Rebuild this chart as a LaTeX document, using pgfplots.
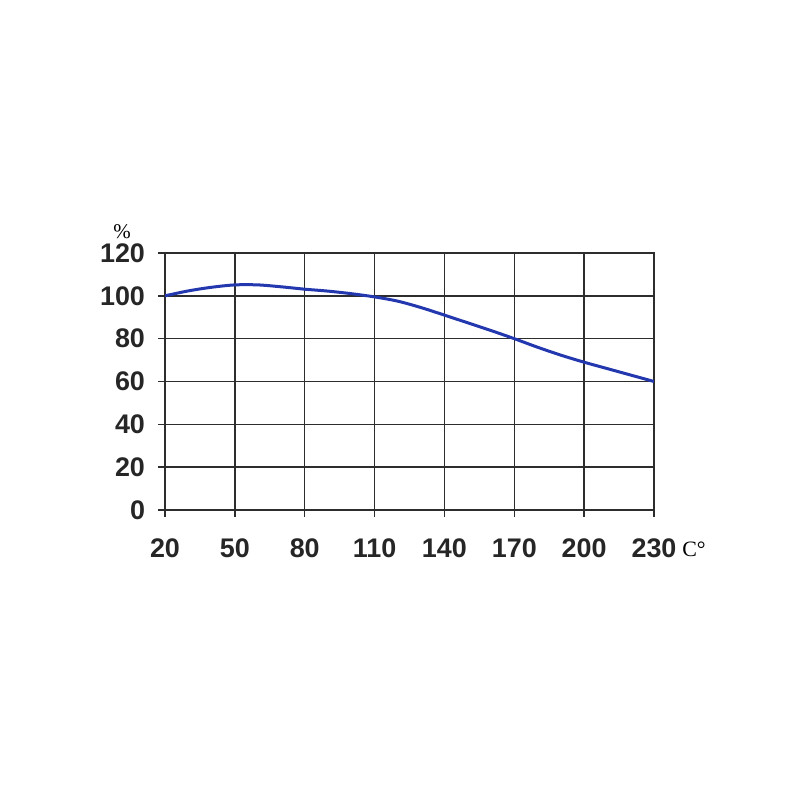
\documentclass[border=0pt]{standalone}
\usepackage{fontspec}
\setmainfont{Liberation Sans}
\newfontfamily\serif{Liberation Serif}
\usepackage{pgfplots}
\pgfplotsset{compat=1.18}
\definecolor{CurveBlue}{RGB}{35,55,175}
\definecolor{GridGray}{RGB}{45,45,45}
\begin{document}
\begin{tikzpicture}
% page frame: 800px = 400bp
\path (0,0) rectangle (400bp,400bp);
\begin{axis}[
    at={(82.5bp,145bp)}, anchor=south west,
    scale only axis,
    width=244.5bp, height=128.5bp,
    xmin=20, xmax=230, ymin=0, ymax=120,
    xtick={20,50,...,230},
    ytick={0,20,...,120},
    grid=major,
    major grid style={GridGray, line width=0.75bp},
    axis line style={GridGray, line width=0.75bp},
    tick style={GridGray, line width=0.75bp},
    tick align=outside,
    major tick length=3.5bp,
    xtick pos=bottom, ytick pos=left,
    /pgf/number format/assume math mode=true,
    ticklabel style={font=\fontsize{13.5}{15}\selectfont\bfseries, text=black!85},
    xticklabel style={yshift=-7.5bp},
    yticklabel style={xshift=-3bp},
]
\addplot[CurveBlue, line width=1.5bp, smooth] coordinates {
(20,100) (30,102.3) (40,104) (50,105.1) (60,105.1) (70,104.2) (80,103.1)
(90,102.2) (100,101) (110,99.5) (120,97.5) (130,94.5) (140,91) (150,87.4)
(160,83.8) (170,80) (180,76) (190,72.3) (200,69) (210,66) (220,63) (230,60)
};
\end{axis}
\node[font=\serif\fontsize{10.5}{12}\selectfont] at (61bp,284bp) {\%};
\node[font=\serif\fontsize{11}{12}\selectfont] at (347bp,125.5bp) {C°};
\end{tikzpicture}
\end{document}
